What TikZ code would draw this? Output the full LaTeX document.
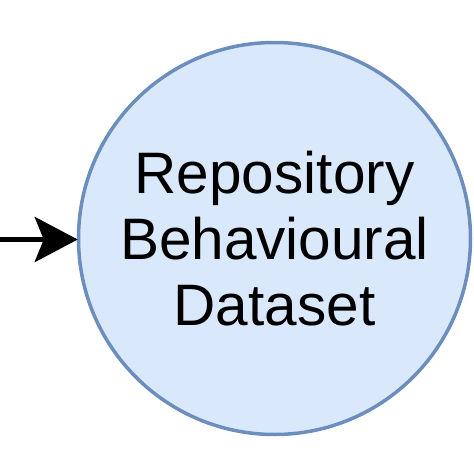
\documentclass[tikz,border=0pt]{standalone}
\usepackage{fontspec}
\setmainfont{Liberation Sans}
\usetikzlibrary{arrows.meta}
\definecolor{nodefill}{HTML}{DAE8FC}
\definecolor{nodedraw}{HTML}{6C8EBF}
\tikzset{
  dsnode/.style={circle, draw=nodedraw, fill=nodefill, line width=3.5pt, minimum size=392pt, inner sep=0pt, align=center, font=\fontsize{58.5}{66}\selectfont},
  flow/.style={line width=5pt, -{Stealth[length=43pt, width=45pt, inset=9pt]}, shorten >=-1pt}
}
\begin{document}
\begin{tikzpicture}[x=1pt,y=-1pt]
\useasboundingbox (0,0) rectangle (474,474);
\node[dsnode] (ds) at (274.5,238.5) {Repository\\Behavioural\\Dataset};
\coordinate (src) at (-5,239.5);
\draw[flow] (src) -- (src -| ds.west);
\end{tikzpicture}
\end{document}
